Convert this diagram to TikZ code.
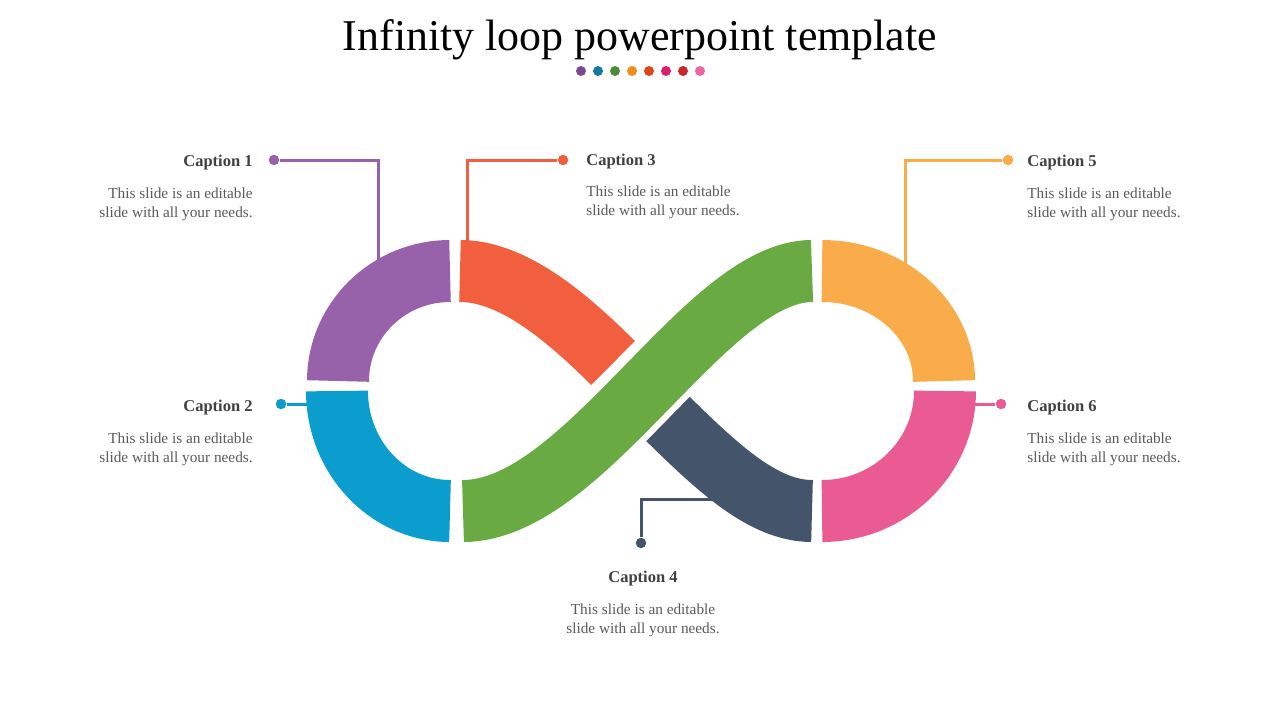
\documentclass[tikz,border=0pt]{standalone}
\usepackage{fontspec}
\setmainfont{Liberation Serif}
\usetikzlibrary{calc}

\definecolor{cpurple}{HTML}{9762AA}
\definecolor{cblue}{HTML}{0B9DCE}
\definecolor{cgreen}{HTML}{6AAA43}
\definecolor{cred}{HTML}{F25F3E}
\definecolor{cnavy}{HTML}{44546A}
\definecolor{corange}{HTML}{FAAC4B}
\definecolor{cpink}{HTML}{EA5A93}
\definecolor{capgray}{HTML}{404040}
\definecolor{bodygray}{HTML}{595959}
\definecolor{dA}{HTML}{7A4A8E}
\definecolor{dB}{HTML}{1477A4}
\definecolor{dC}{HTML}{4F8A3B}
\definecolor{dD}{HTML}{F08C17}
\definecolor{dE}{HTML}{E04418}
\definecolor{dF}{HTML}{DC1F6D}
\definecolor{dG}{HTML}{C6282B}
\definecolor{dH}{HTML}{EF65A2}

\tikzset{
  band/.style={line width=1.24cm},
  lead/.style={line width=0.06cm},
  pin/.style={circle,inner sep=0pt,minimum size=0.21cm},
  captxt/.style={font=\fontsize{9.4}{11}\selectfont\bfseries,text=capgray,inner sep=0pt},
  body/.style={font=\fontsize{8.7}{10.8}\selectfont,text=bodygray,inner sep=0pt}
}

\begin{document}
\begin{tikzpicture}[x=0.02cm,y=-0.02cm]

	\useasboundingbox (0,0) rectangle (1280,720);

	\node[anchor=base,font=\fontsize{25}{30}\selectfont] (title) at (640,50) {Infinity loop powerpoint template};
	\foreach \c [count=\i] in {dA,dB,dC,dD,dE,dF,dG,dH}
		\fill[\c] (564+17*\i,71) circle[radius=0.1cm];

	% leaders
	\node[pin,fill=cpurple] (p1) at (274,160) {};
	\node[pin,fill=cblue] (p2) at (281,404) {};
	\node[pin,fill=cred] (p3) at (563,160) {};
	\node[pin,fill=cnavy] (p4) at (641,543) {};
	\node[pin,fill=corange] (p5) at (1008,160) {};
	\node[pin,fill=cpink] (p6) at (1001,404) {};
	\coordinate (r1) at (378,264);
	\coordinate (r2) at (308,404);
	\coordinate (r3) at (467,242);
	\coordinate (r4) at (718,499);
	\coordinate (r5) at (905,264);
	\coordinate (r6) at (975,404);
	\draw[lead,cpurple] (p1) -| (r1);
	\draw[lead,cblue] (p2) -- (r2);
	\draw[lead,cred] (p3) -| (r3);
	\draw[lead,cnavy] (p4) |- (r4);
	\draw[lead,corange] (p5) -| (r5);
	\draw[lead,cpink] (p6) -- (r6);

	% loop
	\draw[band,cpurple] (450,271) arc[start angle=270,end angle=180,x radius=112,y radius=110];
	\draw[band,cblue] (337,391) arc[start angle=180,end angle=90,x radius=113,y radius=120];
	\draw[band,corange] (822,271) arc[start angle=270,end angle=360,x radius=122,y radius=110];
	\draw[band,cpink] (945,391) arc[start angle=0,end angle=90,x radius=123,y radius=120];
	\draw[band,cgreen] (463,511) .. controls (585,511) and (705,271) .. (812,271);
	\draw[band,cred] (460,271) .. controls (510,271) and (562,312) .. (613,363);
	\draw[band,cnavy] (812,511) .. controls (764,511) and (719,469) .. (668,419);

	% captions
	\node[captxt,anchor=base east] (c1) at (253,166) {Caption 1};
	\node[body,anchor=north east,align=right] (t1) at (253,188) {This slide is an editable\\slide with all your needs.};
	\node[captxt,anchor=base east] (c2) at (253,411) {Caption 2};
	\node[body,anchor=north east,align=right] (t2) at (253,433) {This slide is an editable\\slide with all your needs.};
	\node[captxt,anchor=base west] (c3) at (586,165) {Caption 3};
	\node[body,anchor=north west,align=left] (t3) at (586,186) {This slide is an editable\\slide with all your needs.};
	\node[captxt,anchor=base] (c4) at (643,582) {Caption 4};
	\node[body,anchor=north,align=center] (t4) at (643,604) {This slide is an editable\\slide with all your needs.};
	\node[captxt,anchor=base west] (c5) at (1027,166) {Caption 5};
	\node[body,anchor=north west,align=left] (t5) at (1027,188) {This slide is an editable\\slide with all your needs.};
	\node[captxt,anchor=base west] (c6) at (1027,411) {Caption 6};
	\node[body,anchor=north west,align=left] (t6) at (1027,433) {This slide is an editable\\slide with all your needs.};

\end{tikzpicture}
\end{document}
